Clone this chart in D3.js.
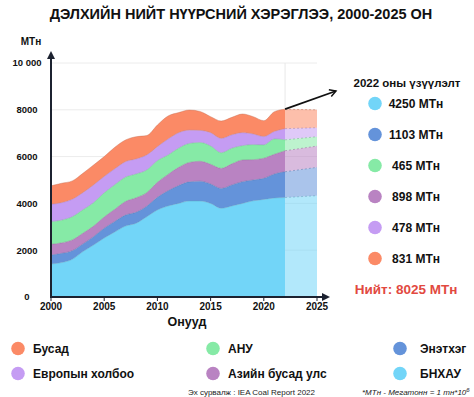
<!DOCTYPE html>
<html>
<head>
<meta charset="utf-8">
<script src="https://cdn.jsdelivr.net/npm/d3@7"></script>
<style>
  body { margin: 0; background: #fff; }
  svg { font-family: "Liberation Sans", Arial, sans-serif; }
</style>
</head>
<body>
<div id="chart"></div>
<script>
// years and series (Mt)
var years = d3.range(2000, 2023);
var china     = [1410,1470,1610,1940,2220,2520,2780,3030,3150,3430,3720,3890,4000,4100,4100,4000,3790,3890,4000,4110,4170,4230,4250];
var india     = [385,395,370,330,360,420,450,470,470,450,540,650,760,820,850,830,850,900,930,890,900,1030,1103];
var otherAsia = [455,450,460,455,450,480,520,580,620,580,640,700,780,830,850,840,855,900,925,870,860,840,898];
var usa       = [970,970,990,1000,1000,1030,1050,1040,1016,968,926,827,820,810,800,783,669,669,612,641,570,655,465];
var eu        = [740,745,745,735,760,700,680,663,644,640,600,680,660,570,520,569,612,570,555,455,355,320,478];
var other     = [790,830,785,825,850,850,920,926,950,832,924,988,860,860,810,685,745,749,798,741,680,845,831];

// forecast 2022 -> 2025
var forecastYears = [2022, 2025];
var chinaF     = [4250, 4330];
var indiaF     = [1103, 1210];
var otherAsiaF = [898, 910];
var usaF       = [465, 400];
var euF        = [478, 385];
var otherF     = [831, 765];

var keys = ["china", "india", "otherAsia", "usa", "eu", "other"];
var names = ["БНХАУ", "Энэтхэг", "Азийн бусад улс", "АНУ", "Европын холбоо", "Бусад"];
var colors = ["#72d5f8", "#6493da", "#b983c2", "#86eaa6", "#c59cf3", "#fb8a66"];
var yTicks = [0, 2000, 4000, 6000, 8000, 10000];
var xTicks = [2000, 2005, 2010, 2015, 2020, 2025];
var panelOrder = ["china", "india", "usa", "otherAsia", "eu", "other"];
var legendCols = [["other", "eu"], ["usa", "otherAsia"], ["india", "china"]];

var W = 474, H = 397;
var svg = d3.select("#chart").append("svg").attr("width", W).attr("height", H);

var x = d3.scaleLinear().domain([2000, 2025]).range([51, 317]);
var y = d3.scaleLinear().domain([0, 10000]).range([297, 63]);
var color = d3.scaleOrdinal().domain(keys).range(colors);
var nameOf = d3.scaleOrdinal().domain(keys).range(names);

var hist = [china, india, otherAsia, usa, eu, other];
var fore = [chinaF, indiaF, otherAsiaF, usaF, euF, otherF];
var rows = years.map(function (yr, i) {
    var r = { year: yr };
    keys.forEach(function (k, j) { r[k] = hist[j][i]; });
    return r;
});
var rowsF = forecastYears.map(function (yr, i) {
    var r = { year: yr };
    keys.forEach(function (k, j) { r[k] = fore[j][i]; });
    return r;
});

var stack = d3.stack().keys(keys);
var series = stack(rows);
var seriesF = stack(rowsF);

// title
svg.append("text")
    .attr("x", 241).attr("y", 19)
    .attr("text-anchor", "middle")
    .style("font-size", "14.5px").style("font-weight", "bold").style("fill", "#111")
    .text("ДЭЛХИЙН НИЙТ НҮҮРСНИЙ ХЭРЭГЛЭЭ, 2000-2025 ОН");

svg.append("text")
    .attr("x", 31).attr("y", 45)
    .attr("text-anchor", "middle")
    .style("font-size", "10px").style("font-weight", "bold").style("fill", "#111")
    .text("МТн");

// grid
svg.append("g").selectAll("line")
    .data(yTicks.slice(1))
    .enter().append("line")
    .attr("x1", x(2000)).attr("x2", x(2025))
    .attr("y1", function (d) { return y(d); })
    .attr("y2", function (d) { return y(d); })
    .style("stroke", "#ececec").style("stroke-width", 1);

// 2022 marker line
svg.append("line")
    .attr("x1", x(2022)).attr("x2", x(2022))
    .attr("y1", y(10000)).attr("y2", y(8025))
    .style("stroke", "#e8e8e8").style("stroke-width", 1);

var area = d3.area()
    .x(function (d) { return x(d.data.year); })
    .y0(function (d) { return y(d[0]); })
    .y1(function (d) { return y(d[1]); })
    .curve(d3.curveMonotoneX);

var topLine = d3.line()
    .x(function (d) { return x(d.data.year); })
    .y(function (d) { return y(d[1]); })
    .curve(d3.curveMonotoneX);

var areaF = d3.area()
    .x(function (d) { return x(d.data.year); })
    .y0(function (d) { return y(d[0]); })
    .y1(function (d) { return y(d[1]); });

var lineF = d3.line()
    .x(function (d) { return x(d.data.year); })
    .y(function (d) { return y(d[1]); });

/* history layers */
var g = svg.append("g");
g.selectAll("path.layer")
    .data(series)
    .enter().append("path")
    .attr("class", "layer")
    .attr("d", area)
    .style("fill", function (d) { return color(d.key); });

g.selectAll("path.edge")
    .data(series)
    .enter().append("path")
    .attr("class", "edge")
    .attr("d", topLine)
    .style("fill", "none")
    .style("stroke", function (d) { return d3.color(color(d.key)).darker(0.7); })
    .style("stroke-opacity", 0.5)
    .style("stroke-width", 0.8);

/* forecast layers */
var gf = svg.append("g");
gf.selectAll("path.layerF")
    .data(seriesF)
    .enter().append("path")
    .attr("class", "layerF")
    .attr("d", areaF)
    .style("fill", function (d) { return color(d.key); })
    .style("fill-opacity", 0.55);

gf.selectAll("path.edgeF")
    .data(seriesF)
    .enter().append("path")
    .attr("class", "edgeF")
    .attr("d", lineF)
    .style("fill", "none")
    .style("stroke", function (d) { return d3.color(color(d.key)).darker(0.8); })
    .style("stroke-opacity", 0.6)
    .style("stroke-width", 0.8)
    .style("stroke-dasharray", "2,2");

// markers
var defs = svg.append("defs");
defs.append("marker")
    .attr("id", "axisHead")
    .attr("viewBox", "0 0 10 10")
    .attr("refX", 5).attr("refY", 5)
    .attr("markerWidth", 4).attr("markerHeight", 4)
    .attr("orient", "auto")
    .append("path")
    .attr("d", "M0,0 L10,5 L0,10 Z")
    .style("fill", "#1c2230");
defs.append("marker")
    .attr("id", "openHead")
    .attr("viewBox", "0 0 10 10")
    .attr("refX", 8).attr("refY", 5)
    .attr("markerWidth", 5).attr("markerHeight", 5)
    .attr("orient", "auto")
    .append("path")
    .attr("d", "M1,1 L8,5 L1,9")
    .style("fill", "none")
    .style("stroke", "#111")
    .style("stroke-width", 1.6);

// axes
svg.append("line")
    .attr("x1", x(2000)).attr("y1", y(0))
    .attr("x2", x(2000)).attr("y2", 55)
    .attr("marker-end", "url(#axisHead)")
    .style("stroke", "#1c2230").style("stroke-width", 2);
svg.append("line")
    .attr("x1", x(2000) - 1).attr("y1", y(0))
    .attr("x2", 326).attr("y2", y(0))
    .attr("marker-end", "url(#axisHead)")
    .style("stroke", "#1c2230").style("stroke-width", 2);

svg.append("g").selectAll("text")
    .data(yTicks)
    .enter().append("text")
    .attr("x", 27)
    .attr("y", function (d) { return y(d); })
    .attr("dy", "0.35em")
    .attr("text-anchor", "middle")
    .style("font-size", "9.5px").style("font-weight", "bold").style("fill", "#111")
    .text(function (d) { return d >= 10000 ? "10 000" : d; });

var xt = svg.append("g").selectAll("g")
    .data(xTicks)
    .enter().append("g")
    .attr("transform", function (d) { return "translate(" + x(d) + "," + y(0) + ")"; });
xt.append("line").attr("y1", 1).attr("y2", 4)
    .style("stroke", "#1c2230").style("stroke-width", 1);
xt.append("text")
    .attr("y", 13)
    .attr("text-anchor", "middle")
    .style("font-size", "10px").style("font-weight", "bold").style("fill", "#111")
    .text(function (d) { return d; });

svg.append("text")
    .attr("x", 187).attr("y", 326)
    .attr("text-anchor", "middle")
    .style("font-size", "12.5px").style("font-weight", "bold").style("fill", "#111")
    .text("Онууд");

// arrow to panel
var last = series[series.length - 1][years.length - 1];
svg.append("line")
    .attr("x1", x(2022)).attr("y1", y(last[1]))
    .attr("x2", 336).attr("y2", 91)
    .attr("marker-end", "url(#openHead)")
    .style("stroke", "#111").style("stroke-width", 1.8);

/* right panel */
svg.append("text")
    .attr("x", 407).attr("y", 87)
    .attr("text-anchor", "middle")
    .style("font-size", "11.5px").style("font-weight", "bold").style("fill", "#111")
    .text("2022 оны үзүүлэлт");

var idx22 = years.indexOf(2022);
var panel = svg.append("g").selectAll("g")
    .data(panelOrder)
    .enter().append("g")
    .attr("transform", function (d, i) { return "translate(0," + (103.5 + i * 31) + ")"; });
panel.append("circle")
    .attr("cx", 375).attr("r", 6.8)
    .style("fill", function (d) { return color(d); });
panel.append("text")
    .attr("x", 416).attr("dy", "0.36em")
    .attr("text-anchor", "middle")
    .style("font-size", "12px").style("font-weight", "bold").style("fill", "#111")
    .text(function (d) { return hist[keys.indexOf(d)][idx22] + " МТн"; });

var total = d3.sum(hist, function (s) { return s[idx22]; });
svg.append("text")
    .attr("x", 406).attr("y", 289).attr("dy", "0.36em")
    .attr("text-anchor", "middle")
    .style("font-size", "13.5px").style("font-weight", "bold").style("fill", "#e2493f")
    .text("Нийт: " + total + " МТн");

/* legend */
var colX = [18, 213, 400];
legendCols.forEach(function (col, c) {
    var lg = svg.append("g").selectAll("g")
        .data(col)
        .enter().append("g")
        .attr("transform", function (d, i) { return "translate(" + colX[c] + "," + (348.5 + i * 25) + ")"; });
    lg.append("circle").attr("r", 6.8)
        .style("fill", function (d) { return color(d); });
    lg.append("text")
        .attr("x", c == 2 ? 20 : 15).attr("dy", "0.36em")
        .style("font-size", "12px").style("font-weight", "bold").style("fill", "#111")
        .text(function (d) { return nameOf(d); });
});

svg.append("text")
    .attr("x", 188).attr("y", 395)
    .style("font-size", "8px").style("fill", "#222")
    .text("Эх сурвалж : IEA Coal Report 2022");
var note = svg.append("text")
    .attr("x", 362).attr("y", 395)
    .style("font-size", "8px").style("font-style", "italic").style("fill", "#222")
    .text("*МТн - Мегатонн = 1 тн*10");
note.append("tspan").attr("dy", -3).style("font-size", "6px").text("6");
</script>
</body>
</html>
